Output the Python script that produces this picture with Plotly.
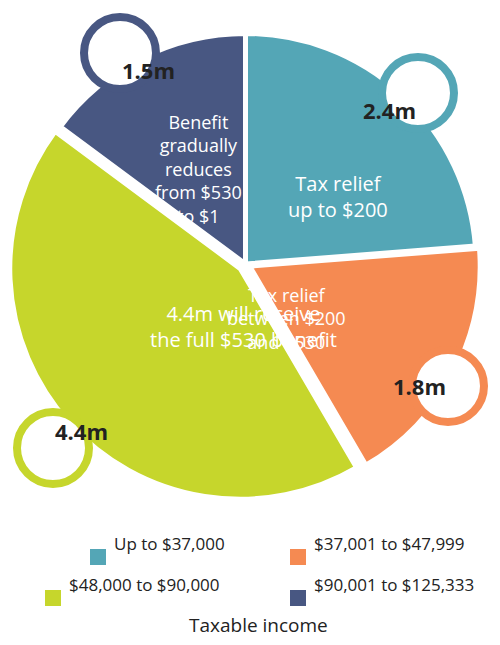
import plotly.graph_objects as go

categories = ["Up to $37,000", "$37,001 to $47,999", "$48,000 to $90,000", "$90,001 to $125,333"]
values = [2.4, 1.8, 4.4, 1.5]
bubble_labels = ["2.4m", "1.8m", "4.4m", "1.5m"]
descriptions = ["Tax relief<br>up to $200", "Tax relief<br>between $200<br>and $530",
                "4.4m will receive<br>the full $530 benefit", "Benefit<br>gradually<br>reduces<br>from $530<br>to $1"]
colors = ["#54a6b6", "#f58a52", "#c6d62c", "#485782"]

W, H = 500, 645
def px(x): return x / W
def py(y): return 1 - y / H

fig = go.Figure(go.Pie(
    labels=categories, values=values, sort=False, direction="clockwise", rotation=0,
    marker=dict(colors=colors, line=dict(color="white", width=5)),
    textinfo="none", hoverinfo="label+value", pull=[0, 0.02, 0.03, 0], showlegend=False,
    domain=dict(x=[px(0), px(475)], y=[py(500), py(12)]),
))

desc_pos = [(330, 160, 20), (340, 310, 18), (140, 318, 20), (190, 100, 18)]
for t, (x, y, s) in zip(descriptions, desc_pos):
    fig.add_annotation(x=px(x), y=py(y), xref="paper", yref="paper", text=t, showarrow=False,
                       font=dict(color="white", size=s, family="Open Sans"), align="center")

bubble_pos = [(410, 85), (440, 378), (45, 440), (112, 45)]
for lab, c, (x, y) in zip(bubble_labels, colors, bubble_pos):
    fig.add_shape(type="circle", xref="paper", yref="paper", xsizemode="pixel", ysizemode="pixel",
                  xanchor=px(x), yanchor=py(y), x0=-36, x1=36, y0=-36, y1=36,
                  fillcolor="white", line=dict(color=c, width=8))
    fig.add_annotation(x=px(x), y=py(y), xref="paper", yref="paper", text="<b>" + lab + "</b>",
                       showarrow=False, font=dict(color="#222", size=22, family="Open Sans"))

# manual legend
leg_pos = [(82, 549), (282, 549), (37, 590), (282, 590)]
for cat, c, (x, y) in zip(categories, colors, leg_pos):
    fig.add_shape(type="rect", xref="paper", yref="paper", x0=px(x), x1=px(x + 16),
                  y0=py(y + 8), y1=py(y - 8), fillcolor=c, line=dict(width=0))
    fig.add_annotation(x=px(x + 22), y=py(y), xref="paper", yref="paper", text=cat, showarrow=False,
                       xanchor="left", font=dict(color="#222", size=17, family="Open Sans"))

fig.add_annotation(x=0.5, y=py(632), xref="paper", yref="paper", text="Taxable income",
                   showarrow=False, font=dict(color="#222", size=19, family="Open Sans"))

fig.update_layout(
    width=W, height=H, margin=dict(l=0, r=0, t=0, b=0, autoexpand=False), paper_bgcolor="white",
    showlegend=False,
)
fig.write_html("out.html")
